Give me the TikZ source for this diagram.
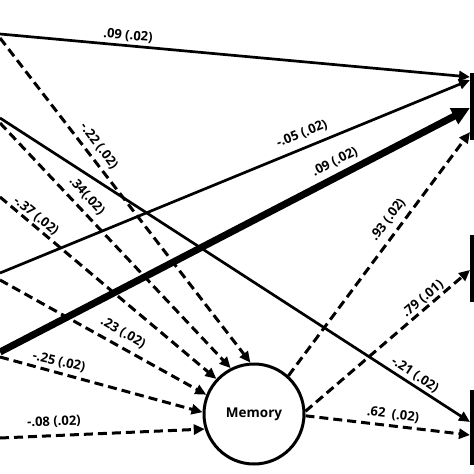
\documentclass[tikz,border=0pt]{standalone}
\usepackage{fontspec}
\setmainfont{Open Sans}
\usetikzlibrary{arrows.meta}
\begin{document}
\begin{tikzpicture}[x=1pt,y=-1pt,
  solidarr/.style={line width=2.7pt,-{Triangle[length=11pt,width=10pt]}},
  thickarr/.style={line width=7pt,-{Triangle[length=18pt,width=17pt]}},
  dasharr/.style={line width=3pt,dash pattern=on 9pt off 5pt,-{Triangle[length=11pt,width=10pt]}},
  lbl/.style={font=\bfseries\fontsize{13}{15}\selectfont,inner sep=0pt},
  outbox/.style={draw,line width=4.5pt,minimum width=60pt,inner sep=0pt},
  memnode/.style={circle,draw,line width=3pt,minimum size=100pt,inner sep=0pt,font=\bfseries\fontsize{13.5}{16}\selectfont}]
\useasboundingbox (0,0) rectangle (474,474);
\clip (0,0) rectangle (474,474);
% sources (boxes out of frame)
\coordinate (a1) at (0,34);
\coordinate (a2) at (0,38);
\coordinate (b1) at (0,118);
\coordinate (b2) at (0,123);
\coordinate (c2) at (0,197);
\coordinate (d1) at (0,273);
\coordinate (d2) at (0,280);
\coordinate (e1) at (0,352);
\coordinate (e2) at (0,357);
\coordinate (f2) at (0,438);
% outcome boxes
\node[outbox,minimum height=63pt] (o1) at (502,106.5) {};
\node[outbox,minimum height=63pt] (o2) at (502,268.5) {};
\node[outbox,minimum height=71pt] (o3) at (502,427.5) {};
\coordinate (t1a) at (470,77);
\coordinate (t1b) at (470,80);
\coordinate (t1c) at (470,108);
\coordinate (t1d) at (470,132);
\coordinate (t2a) at (470,270);
\coordinate (t3a) at (470,422);
\coordinate (t3b) at (470,435);
% memory
\node[memnode] (mem) at (254,414) {Memory};
% solid paths
\draw[solidarr] (a1) -- (t1a);
\draw[solidarr] (d1) -- (t1b);
\draw[solidarr] (b1) -- (t3a);
\draw[thickarr] (e1) -- (t1c);
% dashed to memory
\draw[dasharr] (a2) -- (mem.94);
\draw[dasharr] (b2) -- (mem.117);
\draw[dasharr] (c2) -- (mem.137);
\draw[dasharr] (d2) -- (mem.158);
\draw[dasharr] (e2) -- (mem.178);
\draw[dasharr] (f2) -- (mem.197);
% dashed from memory
\draw[dasharr] (mem.48) -- (t1d);
\draw[dasharr] (mem.3) -- (t2a);
\draw[dasharr] (mem.-2) -- (t3b);
% labels
\node[lbl,rotate=-5] (l1) at (128,36) {.09 (.02)};
\node[lbl,rotate=-53] (l2) at (99,146) {-.22 (.02)};
\node[lbl,rotate=-48] (l3) at (87,196) {.34(.02)};
\node[lbl,rotate=-39] (l4) at (36,216) {-.37 (.02)};
\node[lbl,rotate=-30] (l5) at (123,333) {.23 (.02)};
\node[lbl,rotate=-13] (l6) at (59,362) {-.25 (.02)};
\node[lbl,rotate=2] (l7) at (54,422) {-.08 (.02)};
\node[lbl,rotate=22] (l8) at (302,134) {-.05 (.02)};
\node[lbl,rotate=27] (l9) at (335,162) {.09 (.02)};
\node[lbl,rotate=53] (l10) at (388,220) {.93 (.02)};
\node[lbl,rotate=40] (l11) at (423,299) {.79 (.01)};
\node[lbl,rotate=-33] (l12) at (415,375) {-.21 (.02)};
\node[lbl,rotate=-7] (l13) at (393,415) {.62\enspace(.02)};
\end{tikzpicture}
\end{document}
